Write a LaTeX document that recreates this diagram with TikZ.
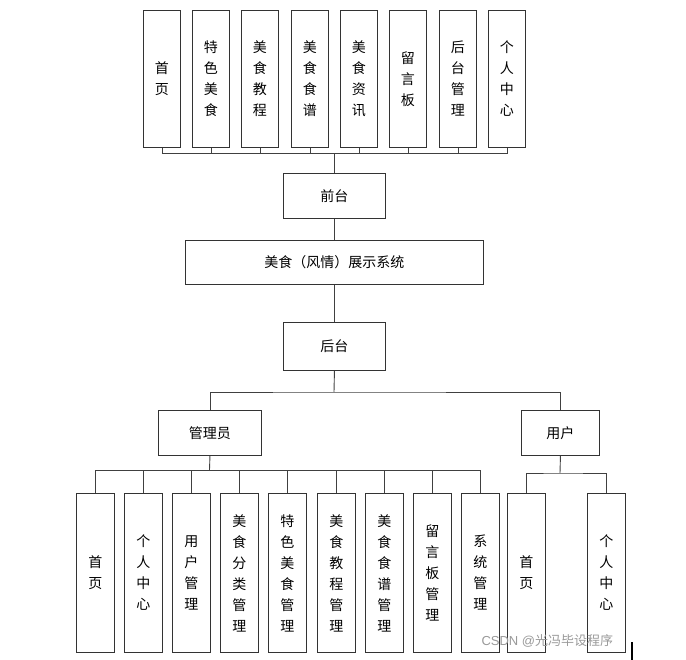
\documentclass[tikz,border=0pt]{standalone}
\usepackage{fontspec}
\usetikzlibrary{calc}
\setmainfont{Noto Sans CJK SC}
\newfontfamily\wm{Liberation Sans}
\begin{document}
\begin{tikzpicture}[x=1pt,y=-1pt,
  box/.style={draw=black!80,line width=0.9pt,inner sep=0pt,font=\fontsize{14}{21}\selectfont},
  ln/.style={draw=black!75,line width=0.9pt}]
\useasboundingbox (0,0) rectangle (686,660);
% top row
\foreach \n/\x/\t in {t1/143/首\\页,t2/192/特\\色\\美\\食,t3/241/美\\食\\教\\程,t4/291/美\\食\\食\\谱,t5/340/美\\食\\资\\讯,t6/389/留\\言\\板,t7/439/后\\台\\管\\理,t8/488/个\\人\\中\\心}{
  \node[box,minimum width=37,minimum height=137,anchor=north west,align=center] (\n) at (\x,10) {\t};
  \draw[ln] (\n.south) -- ++(0,6);
}
\draw[ln] ($(t1.south)+(0,6)$) -- ($(t8.south)+(0,6)$);
\node[box,minimum width=102,minimum height=45,anchor=north west] (qt) at (283,173) {前台};
\draw[ln] (qt.north) -- ++(0,-20);
\node[box,minimum width=298,minimum height=44,anchor=north west] (sys) at (185,240) {美食（风情）展示系统};
\draw[ln] (qt.south) -- (sys.north);
\node[box,minimum width=102,minimum height=48,anchor=north west] (ht) at (283,322) {后台};
\draw[ln] (sys.south) -- (ht.north);
\node[box,minimum width=103,minimum height=45,anchor=north west] (gly) at (158,410) {管理员};
\node[box,minimum width=78,minimum height=45,anchor=north west] (yh) at (521,410) {用户};
\coordinate (j1) at (334,392);
\draw[ln] (ht.south) -- (j1);
\draw[ln] (gly.north) |- (j1) -| (yh.north);
% bottom admin
\foreach \n/\x/\t in {b1/76/首\\页,b2/124/个\\人\\中\\心,b3/172/用\\户\\管\\理,b4/220/美\\食\\分\\类\\管\\理,b5/268/特\\色\\美\\食\\管\\理,b6/317/美\\食\\教\\程\\管\\理,b7/365/美\\食\\食\\谱\\管\\理,b8/413/留\\言\\板\\管\\理,b9/461/系\\统\\管\\理}{
  \node[box,minimum width=38,minimum height=159,anchor=north west,align=center] (\n) at (\x,493) {\t};
  \draw[ln] (\n.north) -- ++(0,-23);
}
\draw[ln] ($(b1.north)+(0,-23)$) -- ($(b9.north)+(0,-23)$);
\coordinate (ga) at (209.5,470);
\draw[ln] (gly.south) -- (ga);
% bottom user
\node[box,minimum width=38,minimum height=159,anchor=north west,align=center] (u1) at (507,493) {首\\页};
\node[box,minimum width=38,minimum height=159,anchor=north west,align=center] (u2) at (587,493) {个\\人\\中\\心};
\coordinate (ua) at (560,473);
\draw[ln] (yh.south) -- (ua);
\draw[ln] (u1.north) |- (ua) -| (u2.north);
\draw[line width=1.2pt] (632,642) -- (632,660);
\node[anchor=west,text=black!40,font=\fontsize{13}{13}\selectfont] (wm) at (478,641) {{\wm CSDN @}光冯毕设程序};
\end{tikzpicture}
\end{document}
